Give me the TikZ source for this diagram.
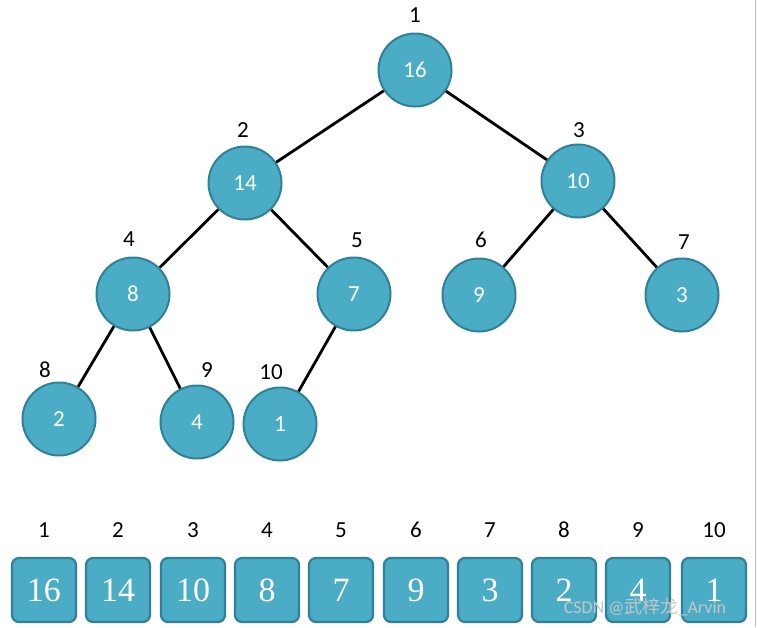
\documentclass[tikz,border=0pt]{standalone}
\usepackage{fontspec}
\setmainfont{Carlito}
\newfontfamily\cjk{Noto Sans CJK SC}
\newfontfamily\serifnum{Liberation Serif}
\begin{document}
\begin{tikzpicture}[x=1pt,y=-1pt,
  hn/.style={circle,draw=cb,line width=2pt,fill=cf,minimum size=73pt,inner sep=0pt,text=white,font=\fontsize{23}{23}\selectfont},
  ab/.style={rounded corners=7pt,draw=cb,line width=2.2pt,fill=cf,minimum width=64pt,minimum height=64pt,inner sep=0pt,text=white,font=\serifnum\fontsize{34}{34}\selectfont},
  lb/.style={font=\fontsize{23}{23}\selectfont,text=black},
  ed/.style={line width=2.8pt,black}]
\definecolor{cf}{HTML}{4BACC6}
\definecolor{cb}{HTML}{31809A}
\useasboundingbox (0,0) rectangle (757,627);
\fill[white] (0,0) rectangle (757,627);
\draw[gray!50] (755,0) -- (755,627);
\node[hn] (n1) at (415,70) {16};
\node[hn] (n2) at (245,183) {14};
\node[hn] (n3) at (578,181) {10};
\node[hn] (n4) at (133,294) {8};
\node[hn] (n5) at (354,294) {7};
\node[hn] (n6) at (479,295) {9};
\node[hn] (n7) at (682,295) {3};
\node[hn] (n8) at (59,419) {2};
\node[hn] (n9) at (197,422) {4};
\node[hn] (n10) at (280,424) {1};
\draw[ed] (n1) -- (n2); \draw[ed] (n1) -- (n3);
\draw[ed] (n2) -- (n4); \draw[ed] (n2) -- (n5);
\draw[ed] (n3) -- (n6); \draw[ed] (n3) -- (n7);
\draw[ed] (n4) -- (n8); \draw[ed] (n4) -- (n9);
\draw[ed] (n5) -- (n10);
\node[lb] (l1) at (415,15) {1};
\node[lb] (l2) at (243,130) {2};
\node[lb] (l3) at (579,130) {3};
\node[lb] (l4) at (129,239) {4};
\node[lb] (l5) at (357,240) {5};
\node[lb] (l6) at (481,240) {6};
\node[lb] (l7) at (684,242) {7};
\node[lb] (l8) at (45,370) {8};
\node[lb] (l9) at (207,370) {9};
\node[lb] (l10) at (271,372) {10};
\foreach \i/\x/\v in {1/44/16,2/118/14,3/193/10,4/267/8,5/341/7,6/416/9,7/490/3,8/564/2,9/638/4,10/714/1}{
  \node[ab] (a\i) at (\x,590) {\v};
  \node[lb] (t\i) at (\x,530) {\i};
}
\node[text=gray!45!white,font=\fontsize{18}{18}\selectfont] (wm) at (645,607) {CSDN @{\cjk 武梓龙}\_Arvin};
\end{tikzpicture}
\end{document}
